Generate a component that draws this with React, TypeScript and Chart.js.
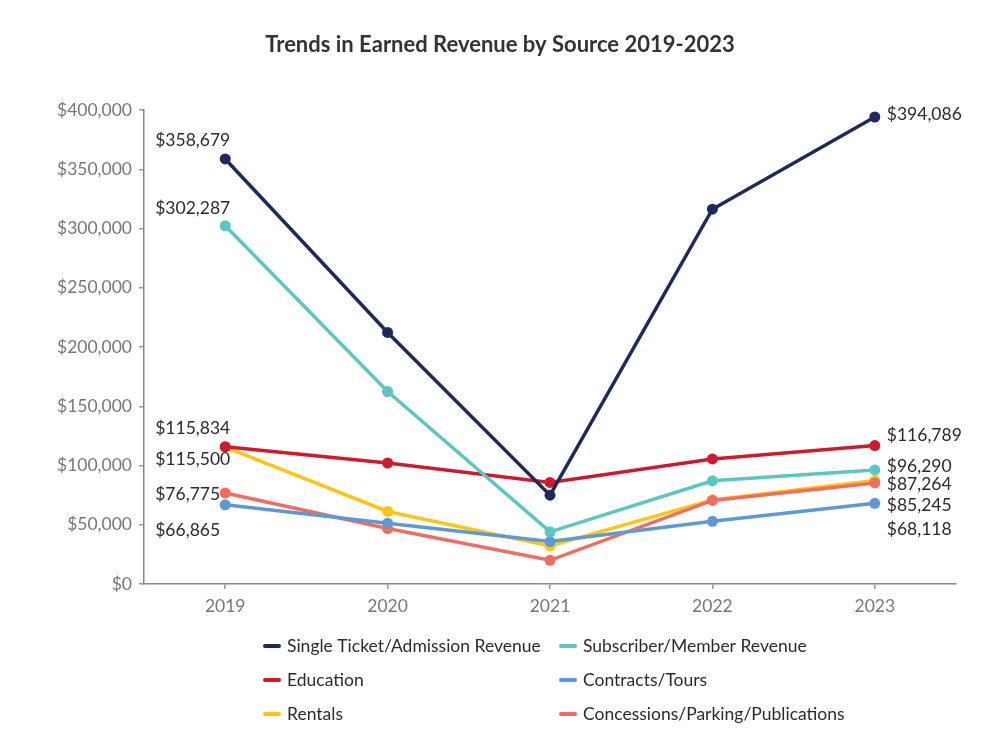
import React, { useEffect, useRef } from "react";
import { Chart, registerables } from "chart.js";

Chart.register(...registerables);

// Categories and series (earned revenue in USD)
const years = ["2019", "2020", "2021", "2022", "2023"];
const singleTicket = [358679, 212300, 75000, 316300, 394086];
const subscriber = [302287, 162400, 44000, 87100, 96290];
const education = [115834, 102100, 85700, 105500, 116789];
const contracts = [66865, 51300, 35800, 52900, 68118];
const rentals = [115500, 61200, 32100, 71000, 87264];
const concessions = [76775, 46800, 20000, 70500, 85245];

const seriesNames = [
  "Single Ticket/Admission Revenue",
  "Subscriber/Member Revenue",
  "Education",
  "Contracts/Tours",
  "Rentals",
  "Concessions/Parking/Publications",
];
const seriesColors = ["#1d2a5b", "#5ac7c3", "#cf1a2e", "#5b9ad6", "#ffc515", "#f26c60"];
const seriesValues = [singleTicket, subscriber, education, contracts, rentals, concessions];

const yMax = 400000;
const yStep = 50000;

// Vertical nudges for the end-point value labels (first year, last year)
const startLabelShift = [-19, -17, -18, 26, 12, 1];
const endLabelShift = [-3, -4, -10, 26, 4, 22];

const FONT = "Lato, 'Open Sans', sans-serif";
const fmt = (v: number) => "$" + Math.round(v).toLocaleString("en-US");

const titlePlugin = {
  id: "titleText",
  afterDraw(chart: any) {
    const { ctx, width } = chart;
    ctx.save();
    ctx.font = `bold 22px ${FONT}`;
    ctx.fillStyle = "#333";
    ctx.textAlign = "center";
    ctx.textBaseline = "middle";
    ctx.fillText("Trends in Earned Revenue by Source 2019-2023", width / 2, 45);
    ctx.restore();
  },
};

const endLabelPlugin = {
  id: "endLabels",
  afterDatasetsDraw(chart: any) {
    const { ctx } = chart;
    ctx.save();
    ctx.font = `17.5px ${FONT}`;
    ctx.fillStyle = "#2b2b2b";
    ctx.textBaseline = "middle";
    ctx.textAlign = "left";
    chart.data.datasets.forEach((ds: any, i: number) => {
      const meta = chart.getDatasetMeta(i);
      const first = meta.data[0];
      const last = meta.data[meta.data.length - 1];
      ctx.fillText(fmt(ds.data[0]), first.x - 70, first.y + startLabelShift[i]);
      ctx.fillText(fmt(ds.data[ds.data.length - 1]), last.x + 12, last.y + endLabelShift[i]);
    });
    ctx.restore();
  },
};

const legendPlugin = {
  id: "twoColumnLegend",
  afterDraw(chart: any) {
    const { ctx } = chart;
    const colX = [263, 559];
    const rowY = [646, 680, 714];
    ctx.save();
    ctx.font = `17.5px ${FONT}`;
    ctx.textBaseline = "middle";
    ctx.textAlign = "left";
    seriesNames.forEach((name, i) => {
      const x = colX[i % 2];
      const y = rowY[Math.floor(i / 2)];
      ctx.strokeStyle = seriesColors[i];
      ctx.lineWidth = 4;
      ctx.lineCap = "round";
      ctx.beginPath();
      ctx.moveTo(x + 2, y);
      ctx.lineTo(x + 16, y);
      ctx.stroke();
      ctx.fillStyle = "#2b2b2b";
      ctx.fillText(name, x + 24, y);
    });
    ctx.restore();
  },
};

export default function App() {
  const canvasRef = useRef<HTMLCanvasElement | null>(null);

  useEffect(() => {
    document.body.style.margin = "0";
    const canvas = canvasRef.current;
    if (!canvas) return;
    const chart = new Chart(canvas, {
      type: "line",
      data: {
        labels: years,
        datasets: seriesValues.map((vals, i) => ({
          label: seriesNames[i],
          data: vals,
          borderColor: seriesColors[i],
          backgroundColor: seriesColors[i],
          pointBackgroundColor: seriesColors[i],
          pointBorderColor: seriesColors[i],
          borderWidth: 3.5,
          pointRadius: 5.5,
          pointBorderWidth: 0,
          tension: 0,
          fill: false,
          order: i === 5 ? 3 : i === 4 ? 4 : i,
        })),
      },
      options: {
        animation: false,
        responsive: false,
        layout: { padding: { top: 110, left: 50, right: 44, bottom: 126 } },
        plugins: {
          legend: { display: false },
          title: { display: false },
          tooltip: { enabled: false },
        },
        scales: {
          x: {
            offset: true,
            grid: { display: true, drawOnChartArea: false, tickLength: 5, color: "#999", lineWidth: 1.5 },
            border: { color: "#888", width: 1.5 },
            ticks: { color: "#777", font: { family: FONT, size: 17.5 }, padding: 7 },
          },
          y: {
            min: 0,
            max: yMax,
            ticks: {
              stepSize: yStep,
              color: "#777",
              font: { family: FONT, size: 17.5 },
              padding: 7,
              callback: (v: any) => fmt(Number(v)),
            },
            grid: { display: true, drawOnChartArea: false, tickLength: 5, color: "#999", lineWidth: 1.5 },
            border: { color: "#888", width: 1.5 },
          },
        },
      },
      plugins: [titlePlugin, endLabelPlugin, legendPlugin],
    });
    return () => chart.destroy();
  }, []);

  return (
    <div style={{ position: "absolute", left: 0, top: 0, width: 1000, height: 750, background: "#fff" }}>
      <canvas ref={canvasRef} width={1000} height={750} style={{ display: "block" }} />
    </div>
  );
}
